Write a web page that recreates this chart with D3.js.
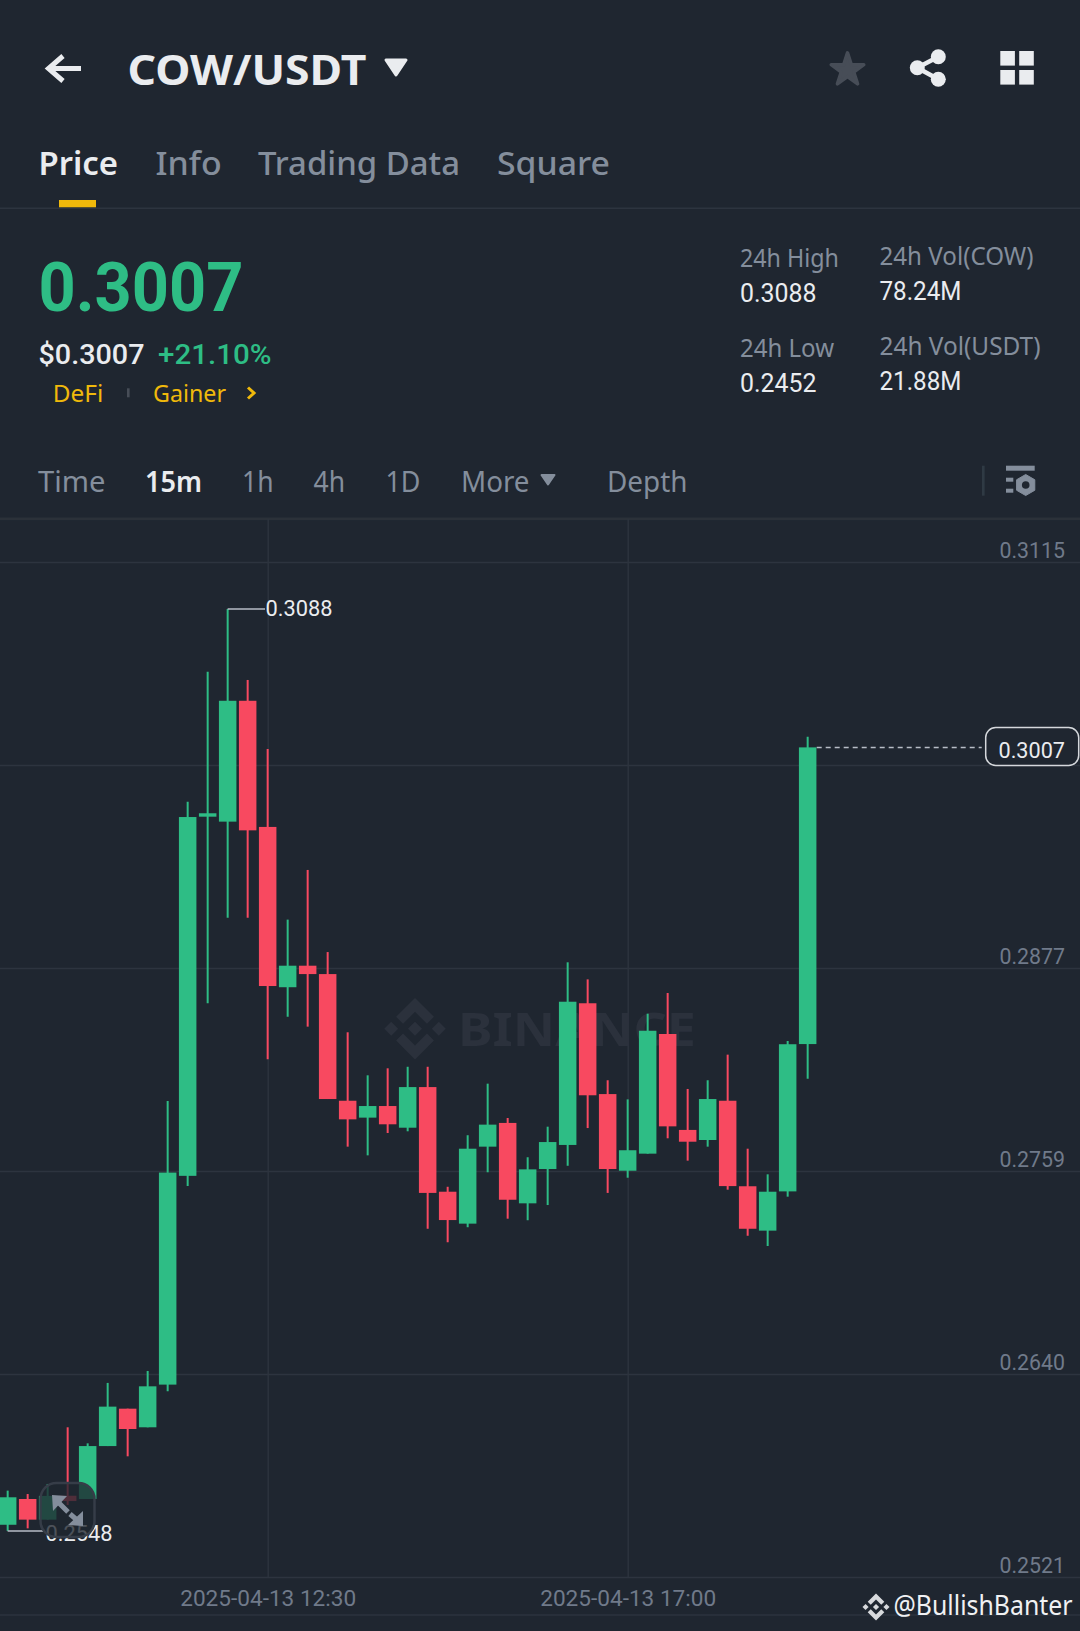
<!DOCTYPE html>
<html><head><meta charset="utf-8">
<script src="https://cdn.jsdelivr.net/npm/d3@7/dist/d3.min.js"></script>
<style>html,body{margin:0;padding:0;background:#1f2630}svg{display:block}</style>
</head><body><svg id="c" width="1080" height="1631"></svg>
<script>
const opens =[.25516,.25667,.25546,.25686,.25667,.25977,.26196,.26087,.26337,.27560,.29664,.29635,.30343,.29604,.28665,.28791,.28742,.28000,.27901,.27969,.27842,.28080,.27467,.27280,.27731,.27870,.27399,.27600,.27741,.28571,.28039,.27590,.27690,.28391,.27829,.27770,.28000,.27499,.27239,.27469,.28332];
const highs =[.25716,.25696,.25755,.26087,.25993,.26347,.26196,.26417,.27998,.29752,.30513,.30880,.30465,.30060,.29061,.29352,.28871,.28401,.28149,.28190,.28199,.28199,.27496,.27798,.28100,.27899,.27669,.27848,.28811,.28711,.28120,.28008,.28510,.28631,.28069,.28120,.28270,.27719,.27569,.28350,.30133];
const lows  =[.25480,.25495,.25546,.25632,.25667,.25977,.25917,.26087,.26298,.27500,.28571,.29072,.29072,.28243,.28492,.28434,.28010,.27731,.27680,.27811,.27821,.27250,.27171,.27259,.27581,.27309,.27300,.27389,.27619,.27840,.27460,.27549,.27690,.27780,.27649,.27731,.27479,.27209,.27149,.27438,.28129];
const closes=[.25677,.25546,.25685,.25655,.25977,.26208,.26077,.26327,.27579,.29662,.29684,.30343,.29584,.28672,.28791,.28742,.28010,.27891,.27969,.27862,.28080,.27460,.27301,.27719,.27860,.27420,.27598,.27758,.28580,.28032,.27600,.27710,.28410,.27850,.27760,.28010,.27500,.27250,.27467,.28331,.30070];
const tickPrices=[.31156,.29967,.28778,.27588,.26399,.2521];
const tickLabels=["0.3115","","0.2877","0.2759","0.2640","0.2521"];
const timeTicks=[new Date(Date.UTC(2025,3,13,12,30)),new Date(Date.UTC(2025,3,13,17,0))];
const times=d3.utcMinute.range(new Date(Date.UTC(2025,3,13,9,15)),new Date(Date.UTC(2025,3,13,19,30)),15);
const lastPrice=.3007, highPrice=.3088, lowPrice=.2548;

const BG="#1f2630",GREEN="#2ebd85",RED="#f84960",GRID="#2d343f",WHITE="#eaecef",GREY="#848e9c",YEL="#f0b90b";
const SANS="'Noto Sans',sans-serif",NUM="Roboto,sans-serif";
const svg=d3.select("#c");
svg.append("rect").attr("width",1080).attr("height",1631).attr("fill",BG);

function txt(x,y,s,size,color,weight,fam,len,g){
  const e=(g||svg).append("text").attr("x",x).attr("y",y).text(s)
    .attr("font-size",size).attr("fill",color).attr("font-weight",weight||400).attr("font-family",fam||SANS);
  if(len)e.attr("textLength",len).attr("lengthAdjust","spacingAndGlyphs");
  return e;
}
const LOGO=["M38.73 53.2l24.59-24.58 24.6 24.6 14.3-14.31L63.32 0 24.42 38.89z","M0 63.31l14.3-14.31 14.31 14.31-14.31 14.3z","M38.73 73.41l24.59 24.59 24.6-24.6 14.31 14.29-38.9 38.91-38.91-38.88-.02-.02z","M98 63.31l14.3-14.31 14.31 14.3-14.31 14.32z","M77.83 63.3L63.32 48.78 52.59 59.51l-1.24 1.23-2.54 2.54 14.51 14.5 14.51-14.47z"];
function logo(cx,cy,size,color){
  const k=size/126.61,g=svg.append("g").attr("transform",`translate(${cx-size/2},${cy-size/2}) scale(${k})`);
  LOGO.forEach(d=>g.append("path").attr("d",d).attr("fill",color));
}

// header
svg.append("path").attr("d","M81 68.5H50M63 56L48.5 68.5L63 81").attr("fill","none").attr("stroke",WHITE).attr("stroke-width",5);
txt(127.5,84.5,"COW/USDT",42,WHITE,700,SANS,239);
svg.append("path").attr("d","M386 60H406L396 75Z").attr("fill",WHITE).attr("stroke",WHITE).attr("stroke-width",3).attr("stroke-linejoin","round");
svg.append("path").attr("d",d3.symbol(d3.symbolStar).size(330)()).attr("transform","translate(847.5,70)").attr("fill","#474d57").attr("stroke","#474d57").attr("stroke-width",3.5).attr("stroke-linejoin","round");
svg.append("path").attr("d","M938.3 56.7L917.3 67.7L938.3 79.3").attr("fill","none").attr("stroke",WHITE).attr("stroke-width",4.5);
[[938.3,56.7],[917.3,67.7],[938.3,79.3]].forEach(p=>svg.append("circle").attr("cx",p[0]).attr("cy",p[1]).attr("r",7.5).attr("fill",WHITE));
[[1000.3,51],[1019.2,51],[1000.3,70],[1019.2,70]].forEach(p=>svg.append("rect").attr("x",p[0]).attr("y",p[1]).attr("width",14.6).attr("height",14.6).attr("fill",WHITE));

// tabs
txt(38.5,174.5,"Price",33,WHITE,600,SANS,79.5);
txt(155.6,174.5,"Info",33,GREY,500,SANS,66);
txt(258,174.5,"Trading Data",33,GREY,500,SANS,202);
txt(497,174.5,"Square",33,GREY,500,SANS,113);
svg.append("rect").attr("x",59).attr("y",200).attr("width",37).attr("height",7.5).attr("fill",YEL);
svg.append("rect").attr("x",0).attr("y",207.5).attr("width",1080).attr("height",1.5).attr("fill",GRID);

// quote
txt(38.5,311,"0.3007",69,GREEN,700,NUM,205);
txt(38.5,363.6,"$0.3007",28,WHITE,500,NUM,106);
txt(158,363.6,"+21.10%",28,GREEN,500,NUM,113.5);
txt(52.8,401.5,"DeFi",24,YEL,400,SANS,50.5);
svg.append("rect").attr("x",127).attr("y",388.3).attr("width",2.6).attr("height",9).attr("fill","#474d57");
txt(153,401.5,"Gainer",24,YEL,400,SANS,73);
svg.append("path").attr("d","M248 387.5L254 393L248 398.5").attr("fill","none").attr("stroke",YEL).attr("stroke-width",3);

// stats
txt(740,267,"24h High",25,GREY,400,SANS,99);
txt(740,301.5,"0.3088",25,WHITE,400,NUM,76.5);
txt(879.5,265,"24h Vol(COW)",25,GREY,400,SANS,154);
txt(879.5,299.7,"78.24M",25,WHITE,400,NUM,82);
txt(740,357,"24h Low",25,GREY,400,SANS,94);
txt(740,391.8,"0.2452",25,WHITE,400,NUM,76.5);
txt(879.5,354.7,"24h Vol(USDT)",25,GREY,400,SANS,161);
txt(879.5,389.5,"21.88M",25,WHITE,400,NUM,82);

// interval row
txt(38,492,"Time",29,GREY,400,SANS,67.5);
txt(145,492,"15m",29,WHITE,600,SANS,57);
txt(242,492,"1h",29,GREY,400,SANS,31.5);
txt(313.5,492,"4h",29,GREY,400,SANS,31.5);
txt(385.5,492,"1D",29,GREY,400,SANS,35);
txt(461,492,"More",29,GREY,400,SANS,68.5);
svg.append("path").attr("d","M541.5 475H554.5L548 484.5Z").attr("fill",GREY).attr("stroke",GREY).attr("stroke-width",2).attr("stroke-linejoin","round");
txt(607,492,"Depth",29,GREY,400,SANS,80.5);
svg.append("rect").attr("x",982).attr("y",465.7).attr("width",2.6).attr("height",30).attr("fill","#2f3a44");
[[1006,465.7,28.7,5],[1006,477.7,7.3,4],[1006,488.7,7.3,4]].forEach(r=>svg.append("rect").attr("x",r[0]).attr("y",r[1]).attr("width",r[2]).attr("height",r[3]).attr("fill",GREY));
svg.append("path").attr("d",d3.range(6).map(i=>{const a=Math.PI/3*i;return (i?"L":"M")+(1025.7+10.5*Math.sin(a))+" "+(485-10.5*Math.cos(a));}).join("")+"Z").attr("fill",GREY).attr("stroke",GREY).attr("stroke-width",1).attr("stroke-linejoin","round");
svg.append("circle").attr("cx",1025.7).attr("cy",485).attr("r",3.8).attr("fill",BG);

// chart
const x=d3.scaleUtc().domain([times[0],times[40]]).range([7.67,807.67]);
const y=d3.scaleLinear().domain([.2521,.31156]).range([1577,562]);
svg.append("rect").attr("x",0).attr("y",517.5).attr("width",1080).attr("height",2.6).attr("fill","#2b3139");

const yAxis=d3.axisRight(y).tickValues(tickPrices).tickSize(1080).tickFormat((d,i)=>tickLabels[i]);
const ya=svg.append("g").call(yAxis);
ya.select(".domain").remove();
ya.selectAll("line").attr("stroke",GRID).attr("stroke-width",1.6);
ya.selectAll("text").attr("x",1065).attr("dy",null).attr("y",-4.5).attr("text-anchor","end")
  .attr("font-family",NUM).attr("font-size",22).attr("fill","#707a8a")
  .filter((d,i)=>tickLabels[i]).attr("textLength",65.5).attr("lengthAdjust","spacingAndGlyphs");

const xAxis=d3.axisBottom(x).tickValues(timeTicks).tickSize(-(1577-519)).tickFormat(d3.utcFormat("%Y-%m-%d %H:%M"));
const xa=svg.append("g").attr("transform","translate(0,1577)").call(xAxis);
xa.select(".domain").remove();
xa.selectAll("line").attr("stroke",GRID).attr("stroke-width",1.4);
xa.selectAll("text").attr("y",28.7).attr("dy",null).attr("font-family",NUM).attr("font-size",22).attr("fill","#707a8a")
  .attr("textLength",176).attr("lengthAdjust","spacingAndGlyphs");
svg.append("rect").attr("x",0).attr("y",1614.3).attr("width",1080).attr("height",1.4).attr("fill",GRID);

// watermark
logo(415,1028.7,61.5,"#2b313c");
txt(458,1046,"BINANCE",47,"#2b313c",700,SANS,238);

// candles
const cs=svg.append("g").selectAll("g").data(times).join("g");
const col=(d,i)=>closes[i]>=opens[i]?GREEN:RED;
cs.append("line").attr("x1",d=>x(d)).attr("x2",d=>x(d)).attr("y1",(d,i)=>y(highs[i])).attr("y2",(d,i)=>y(lows[i])).attr("stroke",col).attr("stroke-width",2);
cs.append("rect").attr("x",d=>x(d)-8.75).attr("width",17.5)
  .attr("y",(d,i)=>y(Math.max(opens[i],closes[i])))
  .attr("height",(d,i)=>Math.abs(y(opens[i])-y(closes[i]))).attr("fill",col);

// high / low markers
const mk=d=>svg.append("path").attr("d",d).attr("fill","none").attr("stroke","#b7bdc6").attr("stroke-width",1.5);
mk(`M${x(times[11])} ${y(highPrice)}H265`);
txt(265.5,616.3,"0.3088",22,WHITE,400,NUM,67);
mk(`M${x(times[0])} ${y(lowPrice)}H43`);
txt(45.5,1540.7,"0.2548",22,WHITE,400,NUM,67);

// last price
svg.append("line").attr("x1",816.7).attr("x2",981.7).attr("y1",y(lastPrice)).attr("y2",y(lastPrice)).attr("stroke","#b7bdc6").attr("stroke-width",1.5).attr("stroke-dasharray","5 4");
svg.append("rect").attr("x",985.7).attr("y",727.5).attr("width",93).attr("height",38).attr("rx",10).attr("fill",BG).attr("stroke","#d5d8dc").attr("stroke-width",1.5);
txt(998.5,758,"0.3007",22,WHITE,400,NUM,66.5);

// expand button
svg.append("rect").attr("x",40.5).attr("y",1483).attr("width",54).attr("height",54).attr("rx",16).attr("fill","rgba(31,38,48,.78)").attr("stroke","#363d48").attr("stroke-width",2.5);
svg.append("path").attr("d","M52 1495L67 1496L53 1511ZM83 1526L83 1511L68 1525Z").attr("fill",GREY);
svg.append("path").attr("d","M58 1502L68 1512M70 1514L77 1520").attr("stroke",GREY).attr("stroke-width",5).attr("fill","none");

// footer credit
logo(876,1607,27,"#d8dadd");
txt(893.5,1615,"@BullishBanter",27,"#f0f1f3",400,SANS,179);
</script></body></html>
